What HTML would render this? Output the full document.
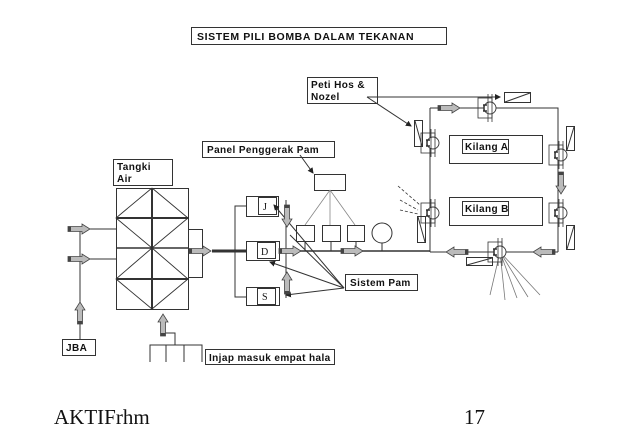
<!DOCTYPE html>
<html><head><meta charset="utf-8"><style>
html,body{margin:0;padding:0;background:#fff;}
svg{display:block}
text{font-family:"Liberation Sans",sans-serif;font-weight:bold;font-size:10px;fill:#111;letter-spacing:0.4px}
.s{font-family:"Liberation Serif",serif;font-weight:normal}
</style></head><body>
<svg width="638" height="442" viewBox="0 0 638 442" xmlns="http://www.w3.org/2000/svg">
<defs>
<marker id="ah" markerWidth="6" markerHeight="6" refX="5" refY="3" orient="auto"><path d="M0,0 L6,3 L0,6 z" fill="#222"/></marker>
<g id="ar"><path d="M0,-2.5 H14 V-5 L22,0 L14,5 V2.5 H0 z" fill="#bbb" stroke="#444" stroke-width="0.8"/><rect x="0" y="-2.5" width="3" height="5" fill="#444"/></g>
<g id="vl">
<rect x="-12" y="-10" width="14" height="20" fill="none" stroke="#333" stroke-width="0.8"/>
<circle cx="0" cy="0" r="6" fill="#fff" stroke="#333" stroke-width="0.9"/>
<line x1="-2" y1="-14" x2="-2" y2="14" stroke="#333" stroke-width="0.8"/>
<line x1="2" y1="-14" x2="2" y2="14" stroke="#333" stroke-width="0.8"/>
<path d="M-7,-3 H-3 M-7,3 H-3 M-6,-3 V3" stroke="#333" stroke-width="1.5" fill="none"/>
</g>
</defs>
<g fill="none" stroke="#333" stroke-width="1">
<rect x="191.5" y="27.5" width="255" height="17"/>
<rect x="113.5" y="159.5" width="59" height="26"/>
<rect x="116.5" y="188.5" width="72" height="121"/>
<path d="M152,188 L116,218 L152,248 L116,279 L152,309 M152,188 L188,218 L152,248 L188,279 L152,309" stroke-width="0.9"/>
<path d="M152,188 V309 M116,218 H188 M116,279 H188" stroke-width="2"/>
<path d="M116,248 H188" stroke-width="1.4"/>
<rect x="188.5" y="229.5" width="14" height="48"/>
<path d="M212,251 H246" stroke-width="3"/>
<path d="M90,229 H116 M90,259 H116 M80,229 V339"/>
<rect x="62.5" y="339.5" width="33" height="16"/>
<path d="M246,206 H235 V297 H246"/>
<rect x="246.5" y="196.5" width="32" height="20"/><rect x="258.5" y="197.5" width="18" height="17"/>
<rect x="246.5" y="241.5" width="33" height="19"/><rect x="257.5" y="242.5" width="18" height="16"/>
<rect x="246.5" y="287.5" width="33" height="18"/><rect x="257.5" y="288.5" width="18" height="16"/>
<path d="M286,200 V298"/>
<path d="M279,251 H430" stroke-width="1.5"/>
<rect x="314.5" y="174.5" width="31" height="16"/>
<path d="M330,190 L305,225 M330,190 V225 M330,190 L355,225" stroke="#888" stroke-width="0.8"/>
<rect x="296.5" y="225.5" width="18" height="16"/><rect x="322.5" y="225.5" width="18" height="16"/><rect x="347.5" y="225.5" width="17" height="16"/>
<path d="M305,241 V251 M331,241 V251 M356,241 V251 M382,243 V251"/>
<circle cx="382" cy="233" r="10"/>
<rect x="202.5" y="141.5" width="132" height="16"/>
<path d="M300,155 L313,173" marker-end="url(#ah)"/>
<rect x="345.5" y="274.5" width="72" height="16"/>
<path d="M344,288 L274,205" marker-end="url(#ah)"/>
<path d="M344,288 L270,262" marker-end="url(#ah)"/>
<path d="M344,288 L286,295" marker-end="url(#ah)"/>
<path d="M344,288 L290,235"/>
<rect x="307.5" y="77.5" width="70" height="26"/>
<path d="M367,97 L411,126" marker-end="url(#ah)"/>
<path d="M367,97 H500" marker-end="url(#ah)"/>
<rect x="504.5" y="92.5" width="26" height="10"/><path d="M505,102 L530,93"/>
<path d="M430,108 V252 M430,108 H558 V252 M430,252 H558" stroke-width="1"/>
<rect x="449.5" y="135.5" width="93" height="28"/><rect x="462.5" y="139.5" width="46" height="14"/>
<rect x="449.5" y="197.5" width="93" height="28"/><rect x="462.5" y="201.5" width="46" height="14"/>
<rect x="414.5" y="120.5" width="8" height="26"/><path d="M415,121 L422,146"/>
<rect x="417.5" y="216.5" width="8" height="26"/><path d="M418,217 L425,242"/>
<rect x="566.5" y="126.5" width="8" height="24"/><path d="M567,150 L574,127"/>
<rect x="566.5" y="225.5" width="8" height="24"/><path d="M567,249 L574,226"/>
<rect x="466.5" y="257.5" width="26" height="8"/><path d="M467,265 L492,258"/>
<path d="M398,186 L420,205 M400,200 L418,210 M400,210 L418,214" stroke-dasharray="3,2" stroke-width="0.8"/>
<path d="M500,252 L490,295 M500,252 L505,300 M500,252 L517,298 M500,252 L528,297 M500,252 L540,295" stroke="#777" stroke-width="0.8"/>
<path d="M163,333 H175 V345 M150,362 V345 H202 V362 M166,345 V362 M184,345 V362"/>
<rect x="205.5" y="349.5" width="129" height="15"/>
</g>
<use href="#vl" x="433" y="143"/>
<use href="#vl" x="433" y="213"/>
<use href="#vl" x="490" y="108"/>
<use href="#vl" x="561" y="155"/>
<use href="#vl" x="561" y="213"/>
<use href="#vl" x="500" y="252"/>
<use href="#ar" transform="translate(68,229)"/>
<use href="#ar" transform="translate(68,259)"/>
<use href="#ar" transform="translate(80,324) rotate(-90)"/>
<use href="#ar" transform="translate(163,336) rotate(-90)"/>
<use href="#ar" transform="translate(189,251)"/>
<use href="#ar" transform="translate(287,205) rotate(90)"/>
<use href="#ar" transform="translate(287,294) rotate(-90)"/>
<use href="#ar" transform="translate(279,251)"/>
<use href="#ar" transform="translate(341,251)"/>
<use href="#ar" transform="translate(438,108)"/>
<use href="#ar" transform="translate(561,172) rotate(90)"/>
<use href="#ar" transform="translate(555,252) rotate(180)"/>
<use href="#ar" transform="translate(468,252) rotate(180)"/>
<text x="197" y="40" style="font-size:10.5px;letter-spacing:0.6px">SISTEM PILI BOMBA DALAM TEKANAN</text>
<text x="117" y="170">Tangki</text><text x="117" y="182">Air</text>
<text x="66" y="351">JBA</text>
<text x="207" y="153">Panel Penggerak Pam</text>
<text x="311" y="88">Peti Hos &amp;</text><text x="311" y="100">Nozel</text>
<text x="465" y="150">Kilang A</text>
<text x="465" y="212">Kilang B</text>
<text x="350" y="286">Sistem Pam</text>
<text x="209" y="361">Injap masuk empat hala</text>
<text x="263" y="210" class="s" style="font-size:10px">J</text>
<text x="261" y="255" class="s" style="font-size:10px">D</text>
<text x="262" y="300" class="s" style="font-size:10px">S</text>
<text x="54" y="424" class="s" style="font-size:21px;letter-spacing:0">AKTIFrhm</text>
<text x="464" y="424" class="s" style="font-size:21px;letter-spacing:0">17</text>
</svg>
</body></html>
